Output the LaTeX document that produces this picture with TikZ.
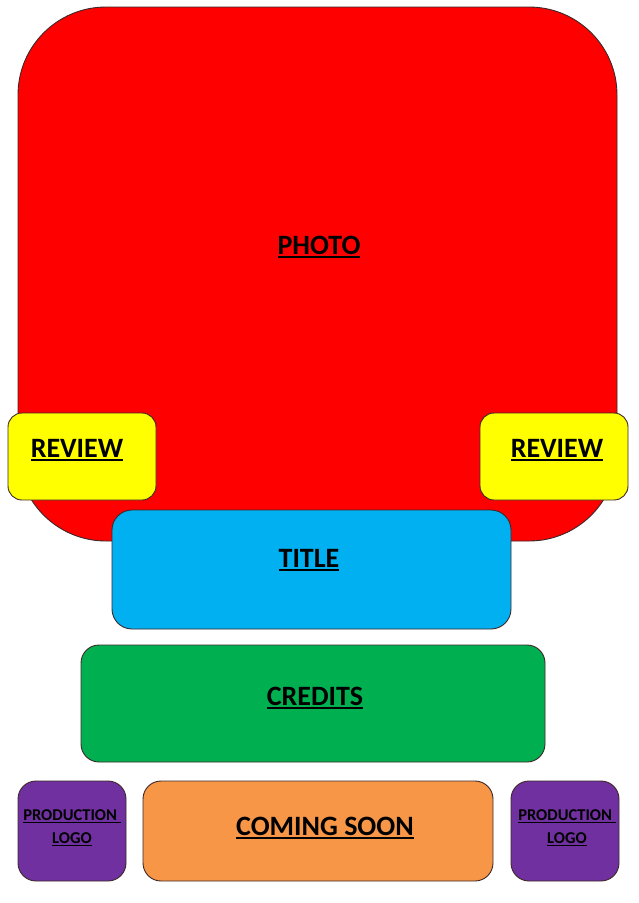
\documentclass[tikz,border=0pt]{standalone}
\usepackage{fontspec}
\setmainfont{Carlito}
\usepackage{xcolor}
\definecolor{ColR}{RGB}{255,0,0}
\definecolor{ColY}{RGB}{255,255,0}
\definecolor{ColB}{RGB}{0,176,240}
\definecolor{ColG}{RGB}{0,176,80}
\definecolor{ColP}{RGB}{112,48,160}
\definecolor{ColO}{RGB}{247,150,70}
\definecolor{ColLine}{RGB}{60,40,40}
\usetikzlibrary{positioning}
\newcommand{\Uline}[1]{\setbox0\hbox{#1}\rlap{\rule[-0.13em]{\wd0}{0.07em}}\box0}
\tikzstyle{Box}=[draw=ColLine,line width=0.9pt,rectangle,inner sep=0pt]
\tikzstyle{BigText}=[font=\fontsize{28}{32}\selectfont\bfseries,inner sep=0pt]
\tikzstyle{SmallText}=[font=\fontsize{16.5}{23}\selectfont\bfseries,inner sep=0pt,align=center]

\begin{document}
\begin{tikzpicture}[x=1pt,y=-1pt]
        \useasboundingbox (0,0) rectangle (638,903);
        \node[Box,fill=ColR,rounded corners=88pt,minimum width=599pt,minimum height=534pt](photo)at(317.5,274){};
        \node[Box,fill=ColY,rounded corners=14pt,minimum width=148pt,minimum height=87pt](reviewL)at(82,456.5){};
        \node[Box,fill=ColY,rounded corners=14pt,minimum width=148pt,minimum height=87pt](reviewR)at(554,456.5){};
        \node[Box,fill=ColB,rounded corners=20pt,minimum width=399pt,minimum height=119pt](title)at(311.5,569.5){};
        \node[Box,fill=ColG,rounded corners=18pt,minimum width=464pt,minimum height=117pt](credits)at(313,703.5){};
        \node[Box,fill=ColP,rounded corners=18pt,minimum width=108pt,minimum height=100pt](logoL)at(72,831){};
        \node[Box,fill=ColO,rounded corners=18pt,minimum width=350pt,minimum height=100pt](soon)at(318,831){};
        \node[Box,fill=ColP,rounded corners=18pt,minimum width=108pt,minimum height=100pt](logoR)at(565,831){};
        \node[BigText](tPhoto)at(319,247){\Uline{PHOTO}};
        \node[BigText](tReviewL)at(77,450){\Uline{REVIEW}};
        \node[BigText](tReviewR)at(557,450){\Uline{REVIEW}};
        \node[BigText](tTitle)at(309,560){\Uline{TITLE}};
        \node[BigText](tCredits)at(315,698){\Uline{CREDITS}};
        \node[BigText](tSoon)at(325,828){\Uline{COMING SOON}};
        \node[SmallText](tLogoL)at(72,828){\Uline{PRODUCTION }\\\Uline{LOGO}};
        \node[SmallText](tLogoR)at(567,828){\Uline{PRODUCTION }\\\Uline{LOGO}};
    \end{tikzpicture}
\end{document}
